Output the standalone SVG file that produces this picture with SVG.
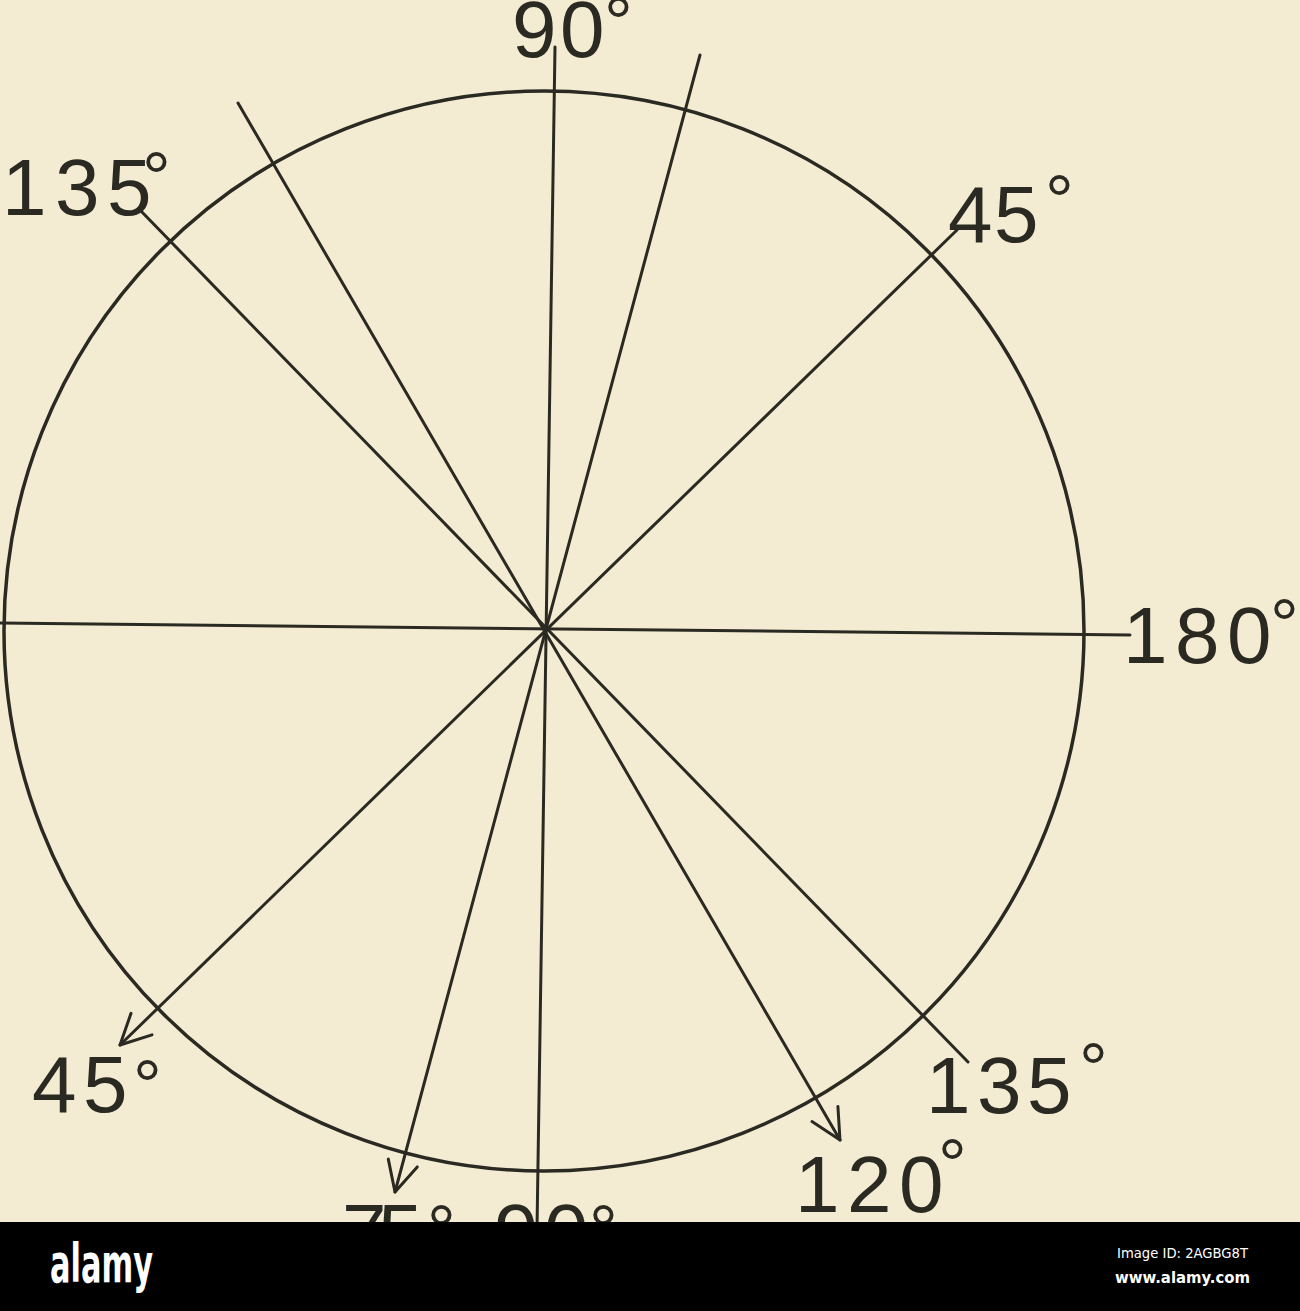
<svg xmlns="http://www.w3.org/2000/svg" width="1300" height="1311" viewBox="0 0 1300 1311">
  <defs>
    <style>
      .ln { stroke: #2b2a22; stroke-width: 3; fill: none; stroke-linecap: round; }
      .lbl { font-family: "Liberation Sans", Arial, sans-serif; font-size: 80px; fill: #2b2a22; }
      .deg { font-size: 72px; }
      .wm { font-family: "DejaVu Sans Condensed", "Liberation Sans", sans-serif; fill: #ffffff; }
    </style>
    <marker id="arr" markerUnits="userSpaceOnUse" markerWidth="44" markerHeight="44" viewBox="-38 -22 44 44" refX="0" refY="0" orient="auto" overflow="visible">
      <path d="M -30 -15 L 0 0 L -30 15" fill="none" stroke="#2b2a22" stroke-width="3" stroke-linecap="round" stroke-linejoin="round"/>
    </marker>
  </defs>

  <rect x="0" y="0" width="1300" height="1311" fill="#f3ecd3"/>

  <g id="circle">
    <circle cx="544" cy="631" r="540" fill="none" stroke="#2b2a22" stroke-width="3.5"/>
  </g>

  <g id="connectors">
    <line id="horizontal" class="ln" x1="0" y1="623" x2="1130" y2="635"/>
    <line id="vertical" class="ln" x1="555" y1="47" x2="537" y2="1230"/>
    <line id="line-45" class="ln" x1="957" y1="230" x2="120" y2="1045" marker-end="url(#arr)"/>
    <line id="line-75" class="ln" x1="700" y1="55" x2="395" y2="1192" marker-end="url(#arr)"/>
    <line id="line-120" class="ln" x1="238" y1="103" x2="840" y2="1140" marker-end="url(#arr)"/>
    <line id="line-135" class="ln" x1="140" y1="210" x2="968" y2="1062"/>
  </g>

  <g id="label-90-top">
    <text class="lbl" x="512 560" y="57">90<tspan class="deg" x="604" dy="-10">°</tspan></text>
  </g>
  <g id="label-135-top">
    <text class="lbl" x="2 55 107" y="215">135<tspan class="deg" x="142" dy="-13">°</tspan></text>
  </g>
  <g id="label-45-top">
    <text class="lbl" x="948 994" y="242">45<tspan class="deg" x="1045" dy="-17">°</tspan></text>
  </g>
  <g id="label-180">
    <text class="lbl" x="1123 1175 1227" y="663">180<tspan class="deg" x="1270" dy="-14">°</tspan></text>
  </g>
  <g id="label-45-bottom">
    <text class="lbl" x="32 83" y="1112">45<tspan class="deg" x="133" dy="-2">°</tspan></text>
  </g>
  <g id="label-135-bottom">
    <text class="lbl" x="926 977 1027" y="1113">135<tspan class="deg" x="1079" dy="-20">°</tspan></text>
  </g>
  <g id="label-120">
    <text class="lbl" x="795 847 899" y="1212">120<tspan class="deg" x="938" dy="-23">°</tspan></text>
  </g>
  <g id="label-75">
    <text class="lbl" x="342 378" y="1260">75<tspan class="deg" x="427" dy="-5">°</tspan></text>
  </g>
  <g id="label-90-bottom">
    <text class="lbl" x="494 544" y="1260">90<tspan class="deg" x="589" dy="-5">°</tspan></text>
  </g>

  <g id="footer">
    <rect x="0" y="1222" width="1300" height="89" fill="#000000"/>
    <text class="wm" x="50" y="1282" font-size="54" font-weight="bold" textLength="103" lengthAdjust="spacingAndGlyphs">alamy</text>
    <text class="wm" x="1117" y="1258" font-size="14" textLength="131" lengthAdjust="spacingAndGlyphs">Image ID: 2AGBG8T</text>
    <text class="wm" x="1115" y="1283" font-size="16" font-weight="bold" textLength="135" lengthAdjust="spacingAndGlyphs">www.alamy.com</text>
  </g>
</svg>
